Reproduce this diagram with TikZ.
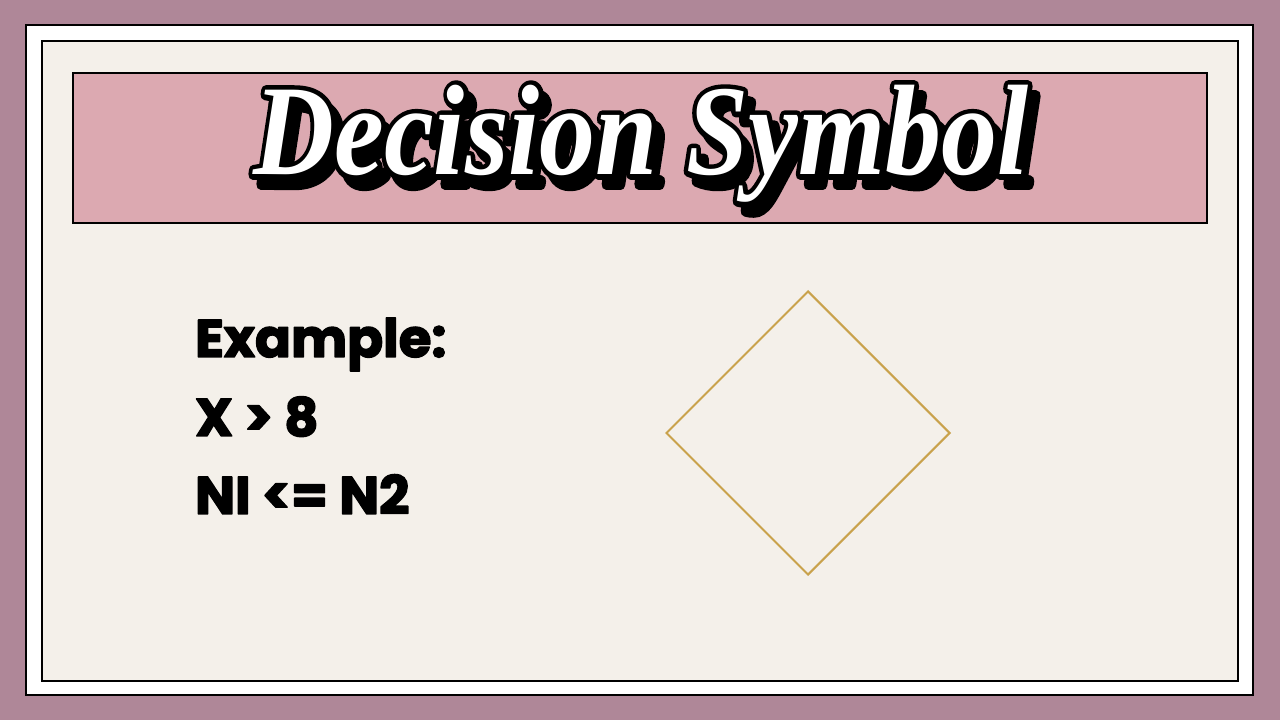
\documentclass[tikz,border=0pt]{standalone}
\usepackage{fontspec}
\setmainfont{Liberation Serif}
\newfontfamily\labelfont{Poppins}
\newfontfamily\headfont{Liberation Serif}
\usetikzlibrary{positioning,shapes.geometric}
\definecolor{mauve}{HTML}{AF8798}
\definecolor{paper}{HTML}{F4F0EA}
\definecolor{rose}{HTML}{DCA9B1}
\definecolor{gold}{HTML}{C9A24C}
% text drawn filled and stroked (outline of width #1)
\newcommand{\outlined}[2]{\special{pdf:code 2 Tr #1 w 1 j 1 J}#2\special{pdf:code 0 Tr}}
\tikzset{
	frame/.style={draw=black,line width=2.5},
	example/.style={anchor=base west,inner sep=0,font=\labelfont\bfseries\fontsize{53}{53}\selectfont},
	headline/.style={inner sep=0,yscale=1.15,font=\headfont\bfseries\itshape\fontsize{112}{112}\selectfont}
}
\begin{document}
\begin{tikzpicture}[x=1pt,y=1pt]
	\useasboundingbox (0,0) rectangle (1280,720);
	\fill[mauve] (0,0) rectangle (1280,720);
	\draw[frame,fill=white] (26,25) rectangle (1253,695);
	\draw[frame,fill=paper] (42,39) rectangle (1238,679);
	\draw[frame,fill=rose] (73,497) rectangle (1207,647);
	% title: shadow, outline, white face
	\node[headline,text=black] (shadow) at (649,566) {\outlined{9}{Decision Symbol}};
	\node[headline,text=black] (rim) at (641,576) {\outlined{9}{Decision Symbol}};
	\node[headline,text=white] (title) at (641,576) {Decision Symbol};
	% example text
	\node[example] (ex) at (195,363) {\outlined{1.5}{Example:}};
	\node[example] (cond1) at (195,284) {\outlined{1.5}{X > 8}};
	\node[example] (cond2) at (195,206) {\outlined{1.5}{NI <= N2}};
	% decision symbol
	\node[diamond,draw=gold,line width=2,minimum width=284,minimum height=284,inner sep=0] (decision) at (808,287) {};
\end{tikzpicture}
\end{document}
